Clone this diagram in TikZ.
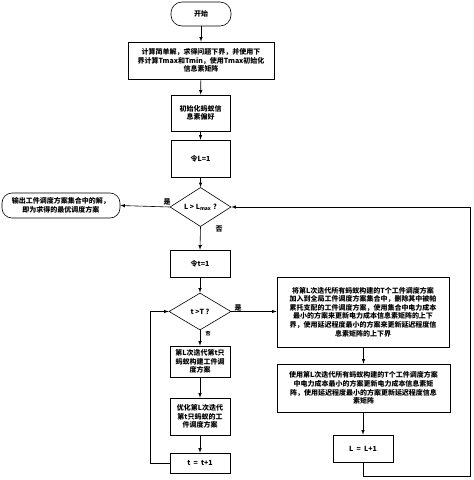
\documentclass[tikz,border=0pt]{standalone}
\usepackage{fontspec}
\setmainfont{Liberation Sans}
\newfontfamily\cjk{Noto Sans CJK SC}
\usetikzlibrary{shapes, shapes.geometric, arrows}
\tikzset{>=latex}
\begin{document}
\begin{tikzpicture}[x=1pt, y=-1pt, line width=0.6pt,
  font=\cjk\bfseries\fontsize{7}{8.6}\selectfont,
  box/.style={draw, rectangle, align=center, inner sep=1pt},
  term/.style={draw, rectangle, rounded corners=11pt, align=center, inner sep=1pt},
  test/.style={draw, diamond, align=center, inner sep=0pt},
  lbl/.style={inner sep=0pt}]
\useasboundingbox (0,0) rectangle (474,480);
\node[term, minimum width=60, minimum height=24] (start) at (201, 14) {开始};
\node[box, minimum width=146, minimum height=37] (calc) at (201, 60.5) {计算简单解，求得问题下界，并使用下\\界计算Tmax和Tmin，使用Tmax初始化\\信息素矩阵};
\node[box, minimum width=59, minimum height=36] (init) at (200.5, 113) {初始化蚂蚁信\\息素偏好};
\node[box, minimum width=59, minimum height=37] (setL) at (200.5, 158.5) {令L=1};
\node[test, minimum width=61, minimum height=34] (chkL) at (200.5, 207) {L > L\textsubscript{max} ?};
\node[term, rounded corners=10pt, minimum width=118, minimum height=25] (out) at (61, 205.5) {输出工件调度方案集合中的解，\\即为求得的最优调度方案};
\node[box, minimum width=60, minimum height=27] (sett) at (200, 263.5) {令t=1};
\node[test, minimum width=62, minimum height=37] (chkT) at (200, 311.5) {t >T ?};
\node[box, minimum width=60, minimum height=31] (build) at (200, 361.5) {第L次迭代第t只\\蚂蚁构建工件调\\度方案};
\node[box, minimum width=60, minimum height=37] (opt) at (200, 416.5) {优化第L次迭代\\第t只蚂蚁的工\\件调度方案};
\node[box, minimum width=60, minimum height=20] (tinc) at (200, 463) {t \ = \ t+1};
\node[box, minimum width=172, minimum height=70] (upd1) at (363, 312) {将第L次迭代所有蚂蚁构建的T个工件调度方案\\加入到全局工件调度方案集合中，删除其中被帕\\累托支配的工件调度方案，使用集合中电力成本\\最小的方案来更新电力成本信息素矩阵的上下\\界，使用延迟程度最小的方案来更新延迟程度信\\息素矩阵的上下界};
\node[box, minimum width=173, minimum height=48] (upd2) at (363.5, 388) {使用第L次迭代所有蚂蚁构建的T个工件调度方案\\中电力成本最小的方案更新电力成本信息素矩\\阵，使用延迟程度最小的方案更新延迟程度信息\\素矩阵};
\node[box, minimum width=60, minimum height=27] (Linc) at (363, 448.5) {L \ = \ L+1};
\coordinate (rloop) at (470, 476);
\draw[->] (start) -- (calc);
\draw[->] (calc) -- (init);
\draw[->] (init) -- (setL);
\draw[->] (setL) -- (chkL);
\draw[->] (chkL.west) -- (out.east);
\draw[->] (chkL.south) -- (sett.north);
\draw[->] (sett) -- (chkT);
\draw[->] (chkT.south) -- (build.north);
\draw[->] (build) -- (opt);
\draw[->] (opt) -- (tinc);
\draw[->] (tinc.west) -- ++(-19,0) |- (chkT.west);
\draw[->] (chkT.east) -- (upd1.west |- chkT.east);
\draw[->] (upd1.south -| upd2.north) -- (upd2.north);
\draw[->] (upd2.south -| Linc.north) -- (Linc.north);
\draw[->] (Linc.south) |- (rloop) |- (chkL.east);
\node[lbl] (yesL) at (167, 202) {是};
\node[lbl] (noL) at (219, 229) {否};
\node[lbl] (yesT) at (238, 308) {是};
\node[lbl, font=\cjk\bfseries\fontsize{5}{6}\selectfont] (noT) at (208, 334) {否};
\end{tikzpicture}
\end{document}
